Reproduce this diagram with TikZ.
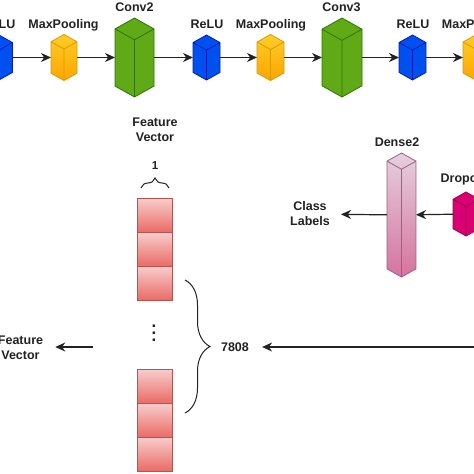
\documentclass[tikz,border=0pt]{standalone}
\usepackage{fontspec}
\setmainfont{Liberation Sans}
\usetikzlibrary{arrows.meta,calc,decorations.pathreplacing}
\definecolor{blueF}{HTML}{0050EF}\definecolor{blueS}{HTML}{001DBC}
\definecolor{yelA}{HTML}{FFCD28}\definecolor{yelB}{HTML}{FFA500}\definecolor{yelS}{HTML}{D79B00}
\definecolor{grnF}{HTML}{60A917}\definecolor{grnS}{HTML}{2D7600}
\definecolor{redA}{HTML}{F8CECC}\definecolor{redB}{HTML}{EA6B66}\definecolor{redS}{HTML}{B85450}
\definecolor{pnkA}{HTML}{E6D0DE}\definecolor{pnkB}{HTML}{D5739D}\definecolor{pnkS}{HTML}{996185}
\definecolor{magF}{HTML}{D80073}\definecolor{magS}{HTML}{A50040}
\definecolor{inkC}{HTML}{222222}
\newcommand{\mylbl}{\fontsize{12.5pt}{15pt}\selectfont\bfseries}
\newcommand{\isocube}[7]{%
  \node[cubebox, minimum width=#4pt, minimum height=#5pt] (#1) at (#2,#3) {};
  \pgfmathsetmacro{\mycd}{0.28*#4}%
  \path[#6] ($(#1.north west)+(0,\mycd)$) -- (#1.north) -- ($(#1.north east)+(0,\mycd)$) -- ($(#1.south east)+(0,-\mycd)$) -- (#1.south) -- ($(#1.south west)+(0,-\mycd)$) -- cycle;
  \draw[cubeline, draw=#7] ($(#1.north west)+(0,\mycd)$) -- (#1.north) -- ($(#1.north east)+(0,\mycd)$) -- ($(#1.south east)+(0,-\mycd)$) -- (#1.south) -- ($(#1.south west)+(0,-\mycd)$) -- cycle
    ($(#1.north west)+(0,\mycd)$) -- ($(#1.north)+(0,2*\mycd)$) -- ($(#1.north east)+(0,\mycd)$)
    ($(#1.north)+(0,2*\mycd)$) -- (#1.south);
}
\tikzset{
  cubebox/.style={rectangle, draw=none, inner sep=0pt, outer sep=0pt},
  cubeline/.style={line width=0.8pt, line join=round},
  lbl/.style={inner sep=0pt, font=\mylbl, text height=9pt, text depth=0pt, text=inkC},
  lbltwo/.style={inner sep=0pt, font=\mylbl, align=center, text=inkC},
  arr/.style={-{Stealth[length=10pt,width=9pt,inset=3.2pt]}, line width=1.2pt, draw=inkC},
  cell/.style={rectangle, minimum width=35pt, minimum height=34pt, inner sep=0pt, top color=redA, bottom color=redB, draw=redS, line width=0.8pt},
  bracestyle/.style={draw=inkC, line width=1pt, decorate},
}
\begin{document}
\begin{tikzpicture}[x=1pt,y=-1pt]
\useasboundingbox (0,0) rectangle (474,474);
\fill[white] (0,0) rectangle (474,474);
\clip (0,0) rectangle (474,474);
% top row
\isocube{b1}{-1}{57.5}{27}{45}{fill=blueF}{blueS}
\isocube{y1}{64}{57.5}{26}{46}{top color=yelA, bottom color=yelB}{yelS}
\isocube{g2}{134.5}{57.5}{39}{79}{fill=grnF}{grnS}
\isocube{b2}{206.5}{57.5}{27}{45}{fill=blueF}{blueS}
\isocube{y2}{270.5}{57.5}{27}{46}{top color=yelA, bottom color=yelB}{yelS}
\isocube{g3}{342}{57.5}{40}{79}{fill=grnF}{grnS}
\isocube{b3}{412.5}{57.5}{27}{45}{fill=blueF}{blueS}
\isocube{y3}{476.5}{57.5}{27}{46}{top color=yelA, bottom color=yelB}{yelS}
\node[lbl] (tb1) at (-1,23.5) {ReLU};
\node[lbl] (ty1) at (63.5,23.5) {MaxPooling};
\node[lbl] (tg2) at (134.5,6.5) {Conv2};
\node[lbl] (tb2) at (207,23.5) {ReLU};
\node[lbl] (ty2) at (271,23.5) {MaxPooling};
\node[lbl] (tg3) at (341.5,6.5) {Conv3};
\node[lbl] (tb3) at (413,23.5) {ReLU};
\node[lbl] (ty3) at (477,23.5) {MaxPooling};
\draw[arr] (b1) -- (y1);
\draw[arr] (y1) -- (g2);
\draw[arr] (g2) -- (b2);
\draw[arr] (b2) -- (y2);
\draw[arr] (y2) -- (g3);
\draw[arr] (g3) -- (b3);
\draw[arr] (b3) -- (y3);
% dense / dropout
\isocube{d2}{401.5}{215}{29}{124}{top color=pnkA, bottom color=pnkB}{pnkS}
\isocube{drop}{466}{214}{26}{44}{fill=magF}{magS}
\node[lbl] (td2) at (397,142) {Dense2};
\node[lbl] (tdrop) at (465,178) {Dropout};
\node[lbltwo] (cls) at (310,214) {Class\\Labels};
\draw[arr] (drop) -- (d2);
\draw[arr, shorten >=11pt] (d2) -- (cls);
% feature vector column
\node[lbltwo] (fvt) at (155,129.5) {Feature\\Vector};
\node[lbl, font=\fontsize{11.5pt}{14pt}\selectfont\bfseries, text height=8.3pt] (one) at (155,165) {1};
\node[cell] (c1) at (154.5,215) {};
\node[cell] (c2) at (154.5,249) {};
\node[cell] (c3) at (154.5,283) {};
\node[cell] (c4) at (154.5,386) {};
\node[cell] (c5) at (154.5,420) {};
\node[cell] (c6) at (154.5,454) {};
\node[inner sep=0pt, align=center, font=\fontsize{17pt}{7pt}\selectfont\bfseries, text=inkC] (dots) at (154,333) {.\\.\\.};
\draw[bracestyle, decoration={brace, amplitude=10pt}] (141,188) -- (169,188);
\draw[bracestyle, decoration={brace, amplitude=25pt}] (185,280) -- (185,413);
\node[lbl] (n7808) at (235,347) {7808};
\coordinate (rin) at (480,347);
\draw[arr, shorten >=13pt] (rin) -- (n7808);
\node[lbltwo] (fvl) at (20.5,347.5) {Feature\\Vector};
\coordinate (lfrom) at (93,347);
\draw[arr, shorten >=12pt] (lfrom) -- (lfrom -| fvl.east);
\end{tikzpicture}
\end{document}
